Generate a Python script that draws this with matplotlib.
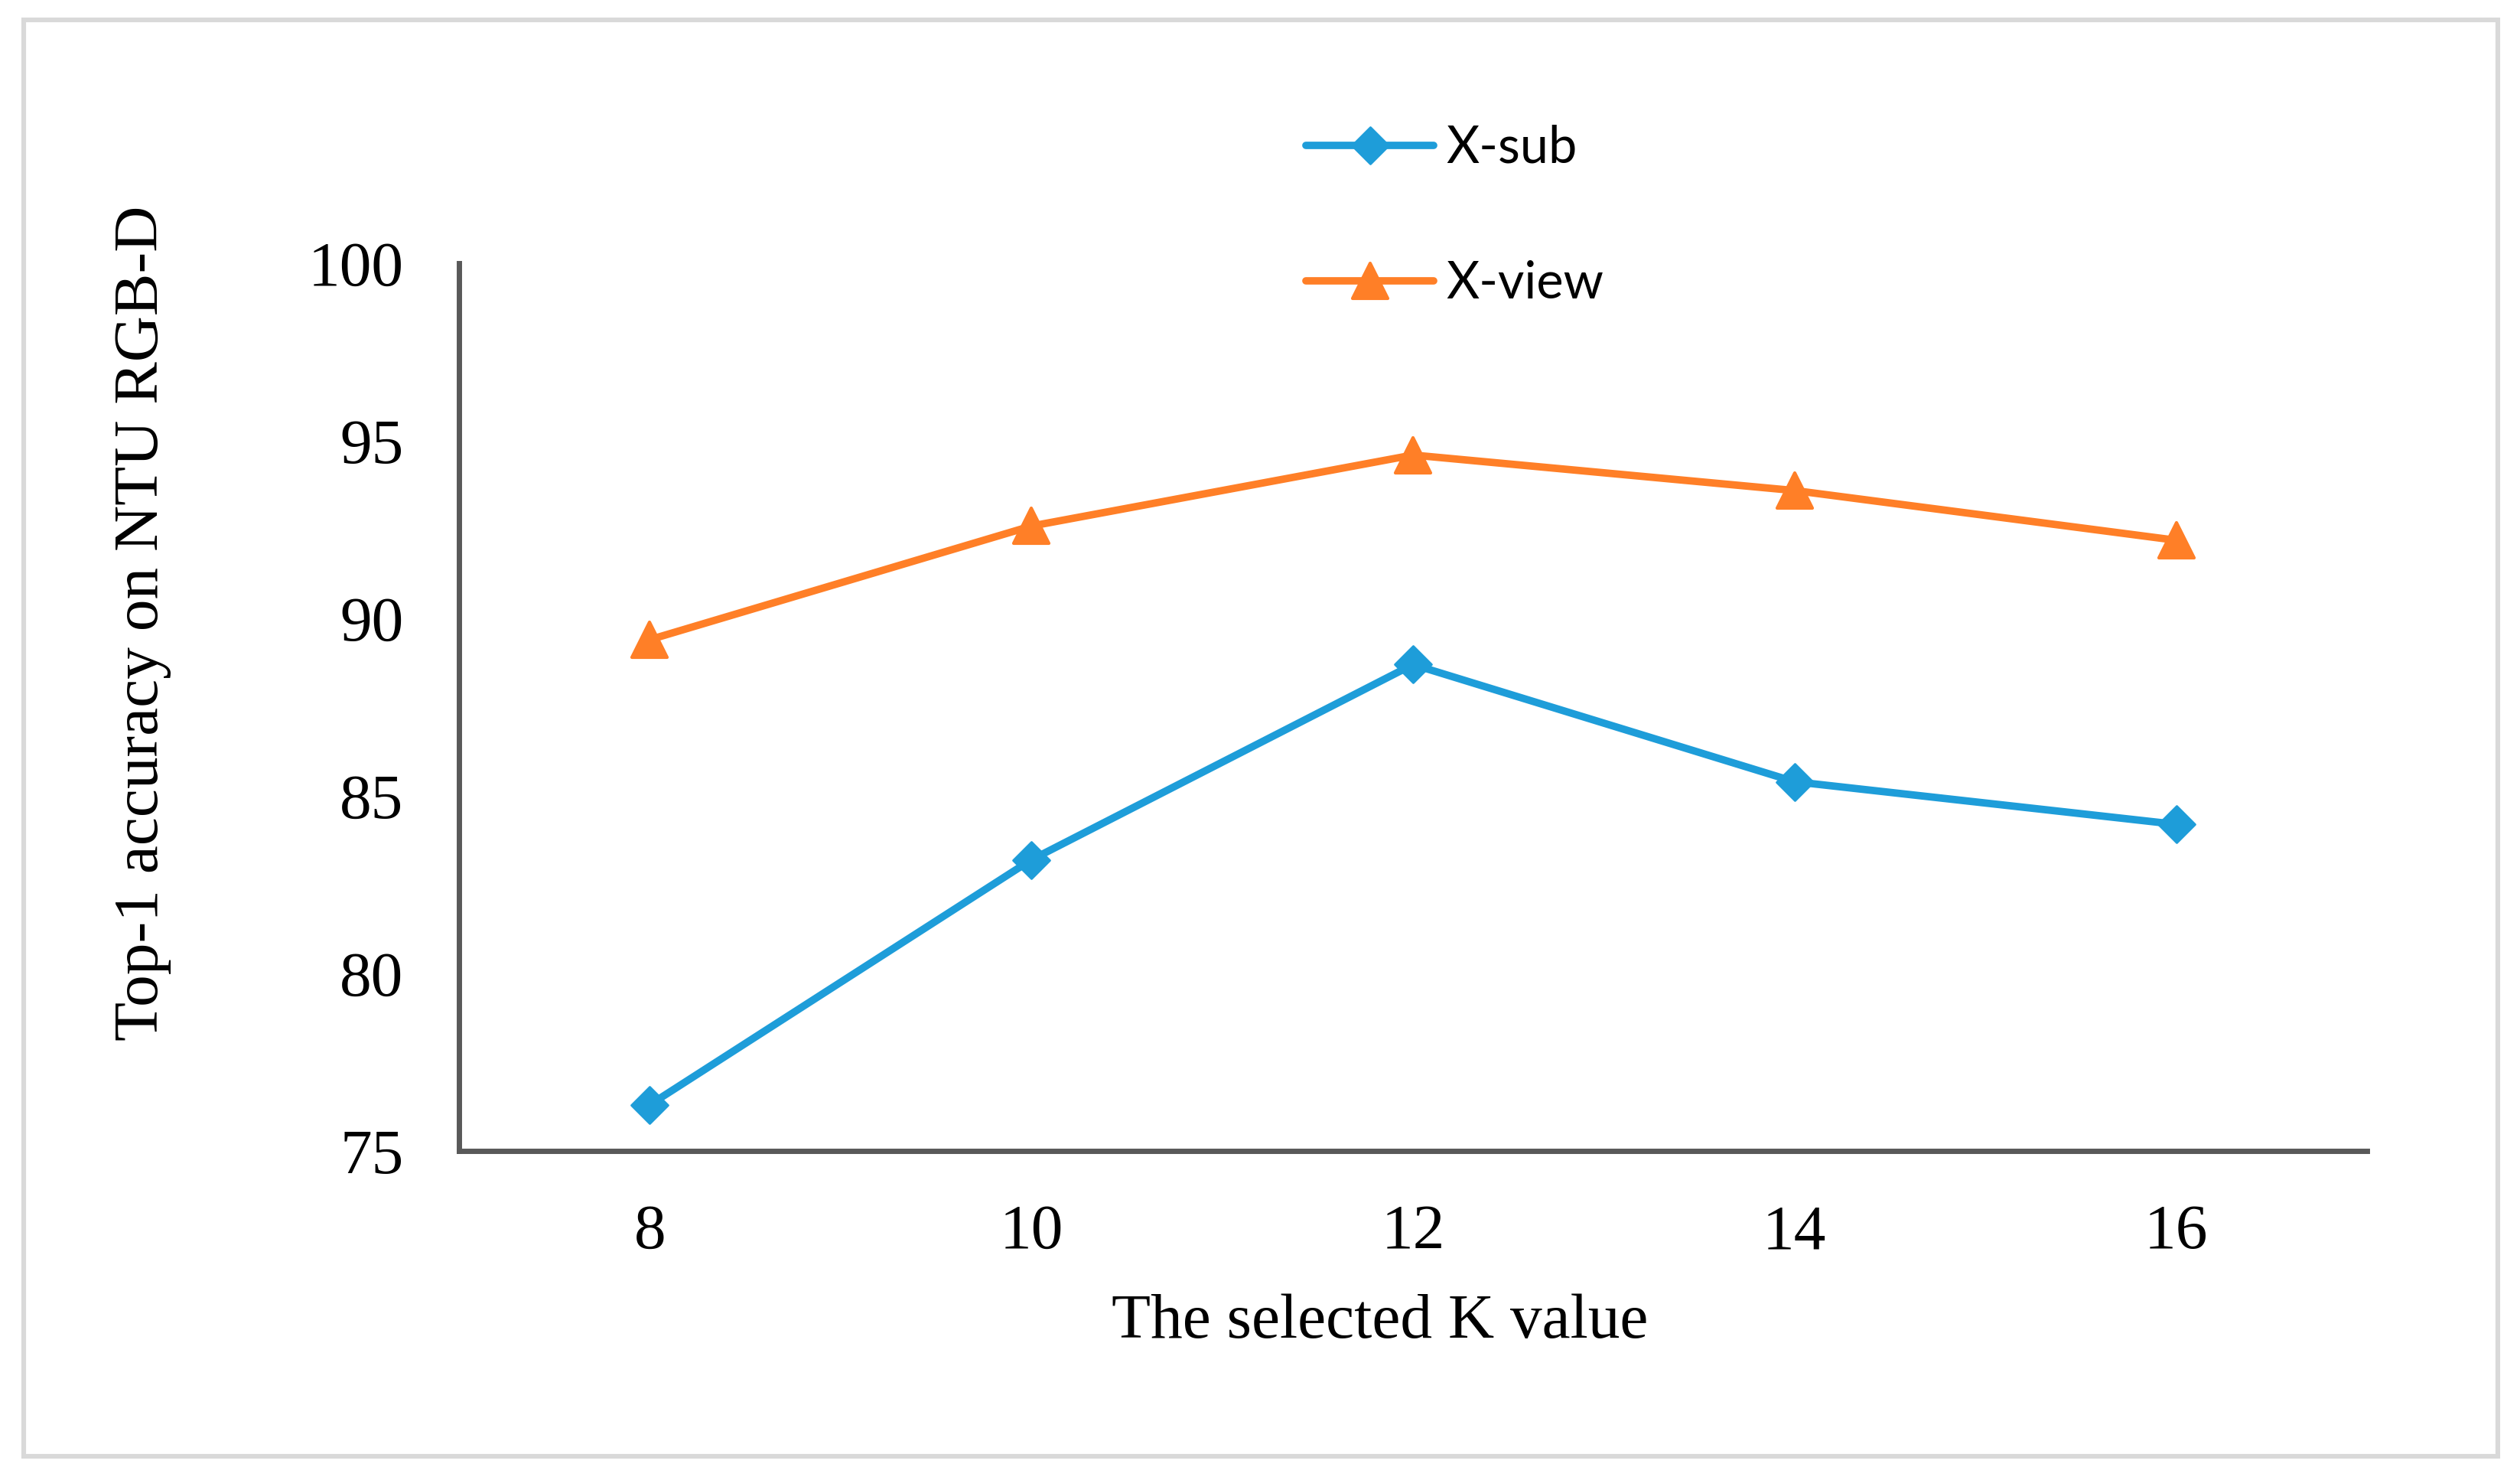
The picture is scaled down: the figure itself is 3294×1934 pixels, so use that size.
import matplotlib
matplotlib.use("Agg")
import matplotlib.pyplot as plt
from matplotlib.markers import MarkerStyle
from matplotlib.patches import Rectangle

# data
k_values = [8, 10, 12, 14, 16]
x_sub = [76.3, 83.2, 88.7, 85.4, 84.2]
x_view = [89.4, 92.6, 94.6, 93.6, 92.2]
series_names = ["X-sub", "X-view"]
y_ticks = [75, 80, 85, 90, 95, 100]

blue = "#1E9DD9"
orange = "#FF7F27"
axis_grey = "#595959"

plt.rcParams['font.family'] = ['Liberation Serif', 'DejaVu Serif']

fig = plt.figure(figsize=(16.47, 9.67), dpi=200)
ax = fig.add_axes([0.1821, 0.2223, 0.7572, 0.5998])

# outer frame around the chart
fig.patches.append(Rectangle((0.0094, 0.016), 0.9818, 0.9706, transform=fig.transFigure,
                             fill=False, edgecolor="#D9D9D9", linewidth=2.2))

diamond = MarkerStyle("D", joinstyle="round")
tri = MarkerStyle("^", joinstyle="round")

ax.plot(k_values, x_sub, color=blue, linewidth=3.5, marker=diamond, markersize=12,
        markeredgewidth=1, markerfacecolor=blue, markeredgecolor=blue,
        solid_capstyle="round", clip_on=False, label=series_names[0])
ax.plot(k_values, x_view, color=orange, linewidth=3.5, marker=tri, markersize=16.5,
        markeredgewidth=1.5, markerfacecolor=orange, markeredgecolor=orange,
        solid_capstyle="round", clip_on=False, label=series_names[1])

ax.set_xlim(7, 17)
ax.set_ylim(75, 100)
ax.set_xticks(k_values)
ax.set_yticks(y_ticks)
ax.tick_params(axis="both", length=0, labelsize=30)
ax.tick_params(axis="y", pad=26)
ax.tick_params(axis="x", pad=25)

for s in ["top", "right"]:
    ax.spines[s].set_visible(False)
for s in ["left", "bottom"]:
    ax.spines[s].set_color(axis_grey)
    ax.spines[s].set_linewidth(2.5)

fig.text(1804 / 3294, 1 - 1728 / 1934, "The selected K value", fontsize=30,
         ha="center", va="center")
fig.text(186 / 3294, 1 - 814 / 1934, "Top-1 accuracy on NTU RGB-D", fontsize=30,
         ha="center", va="center", rotation=90)

leg = ax.legend(loc="upper left", bbox_to_anchor=(1674 / 3294, 0.933),
                bbox_transform=fig.transFigure, frameon=False, borderpad=0,
                handlelength=2.5, handletextpad=0.25, labelspacing=1.73,
                prop={"family": "Lato", "size": 24})

fig.savefig("out.png", dpi=200)
